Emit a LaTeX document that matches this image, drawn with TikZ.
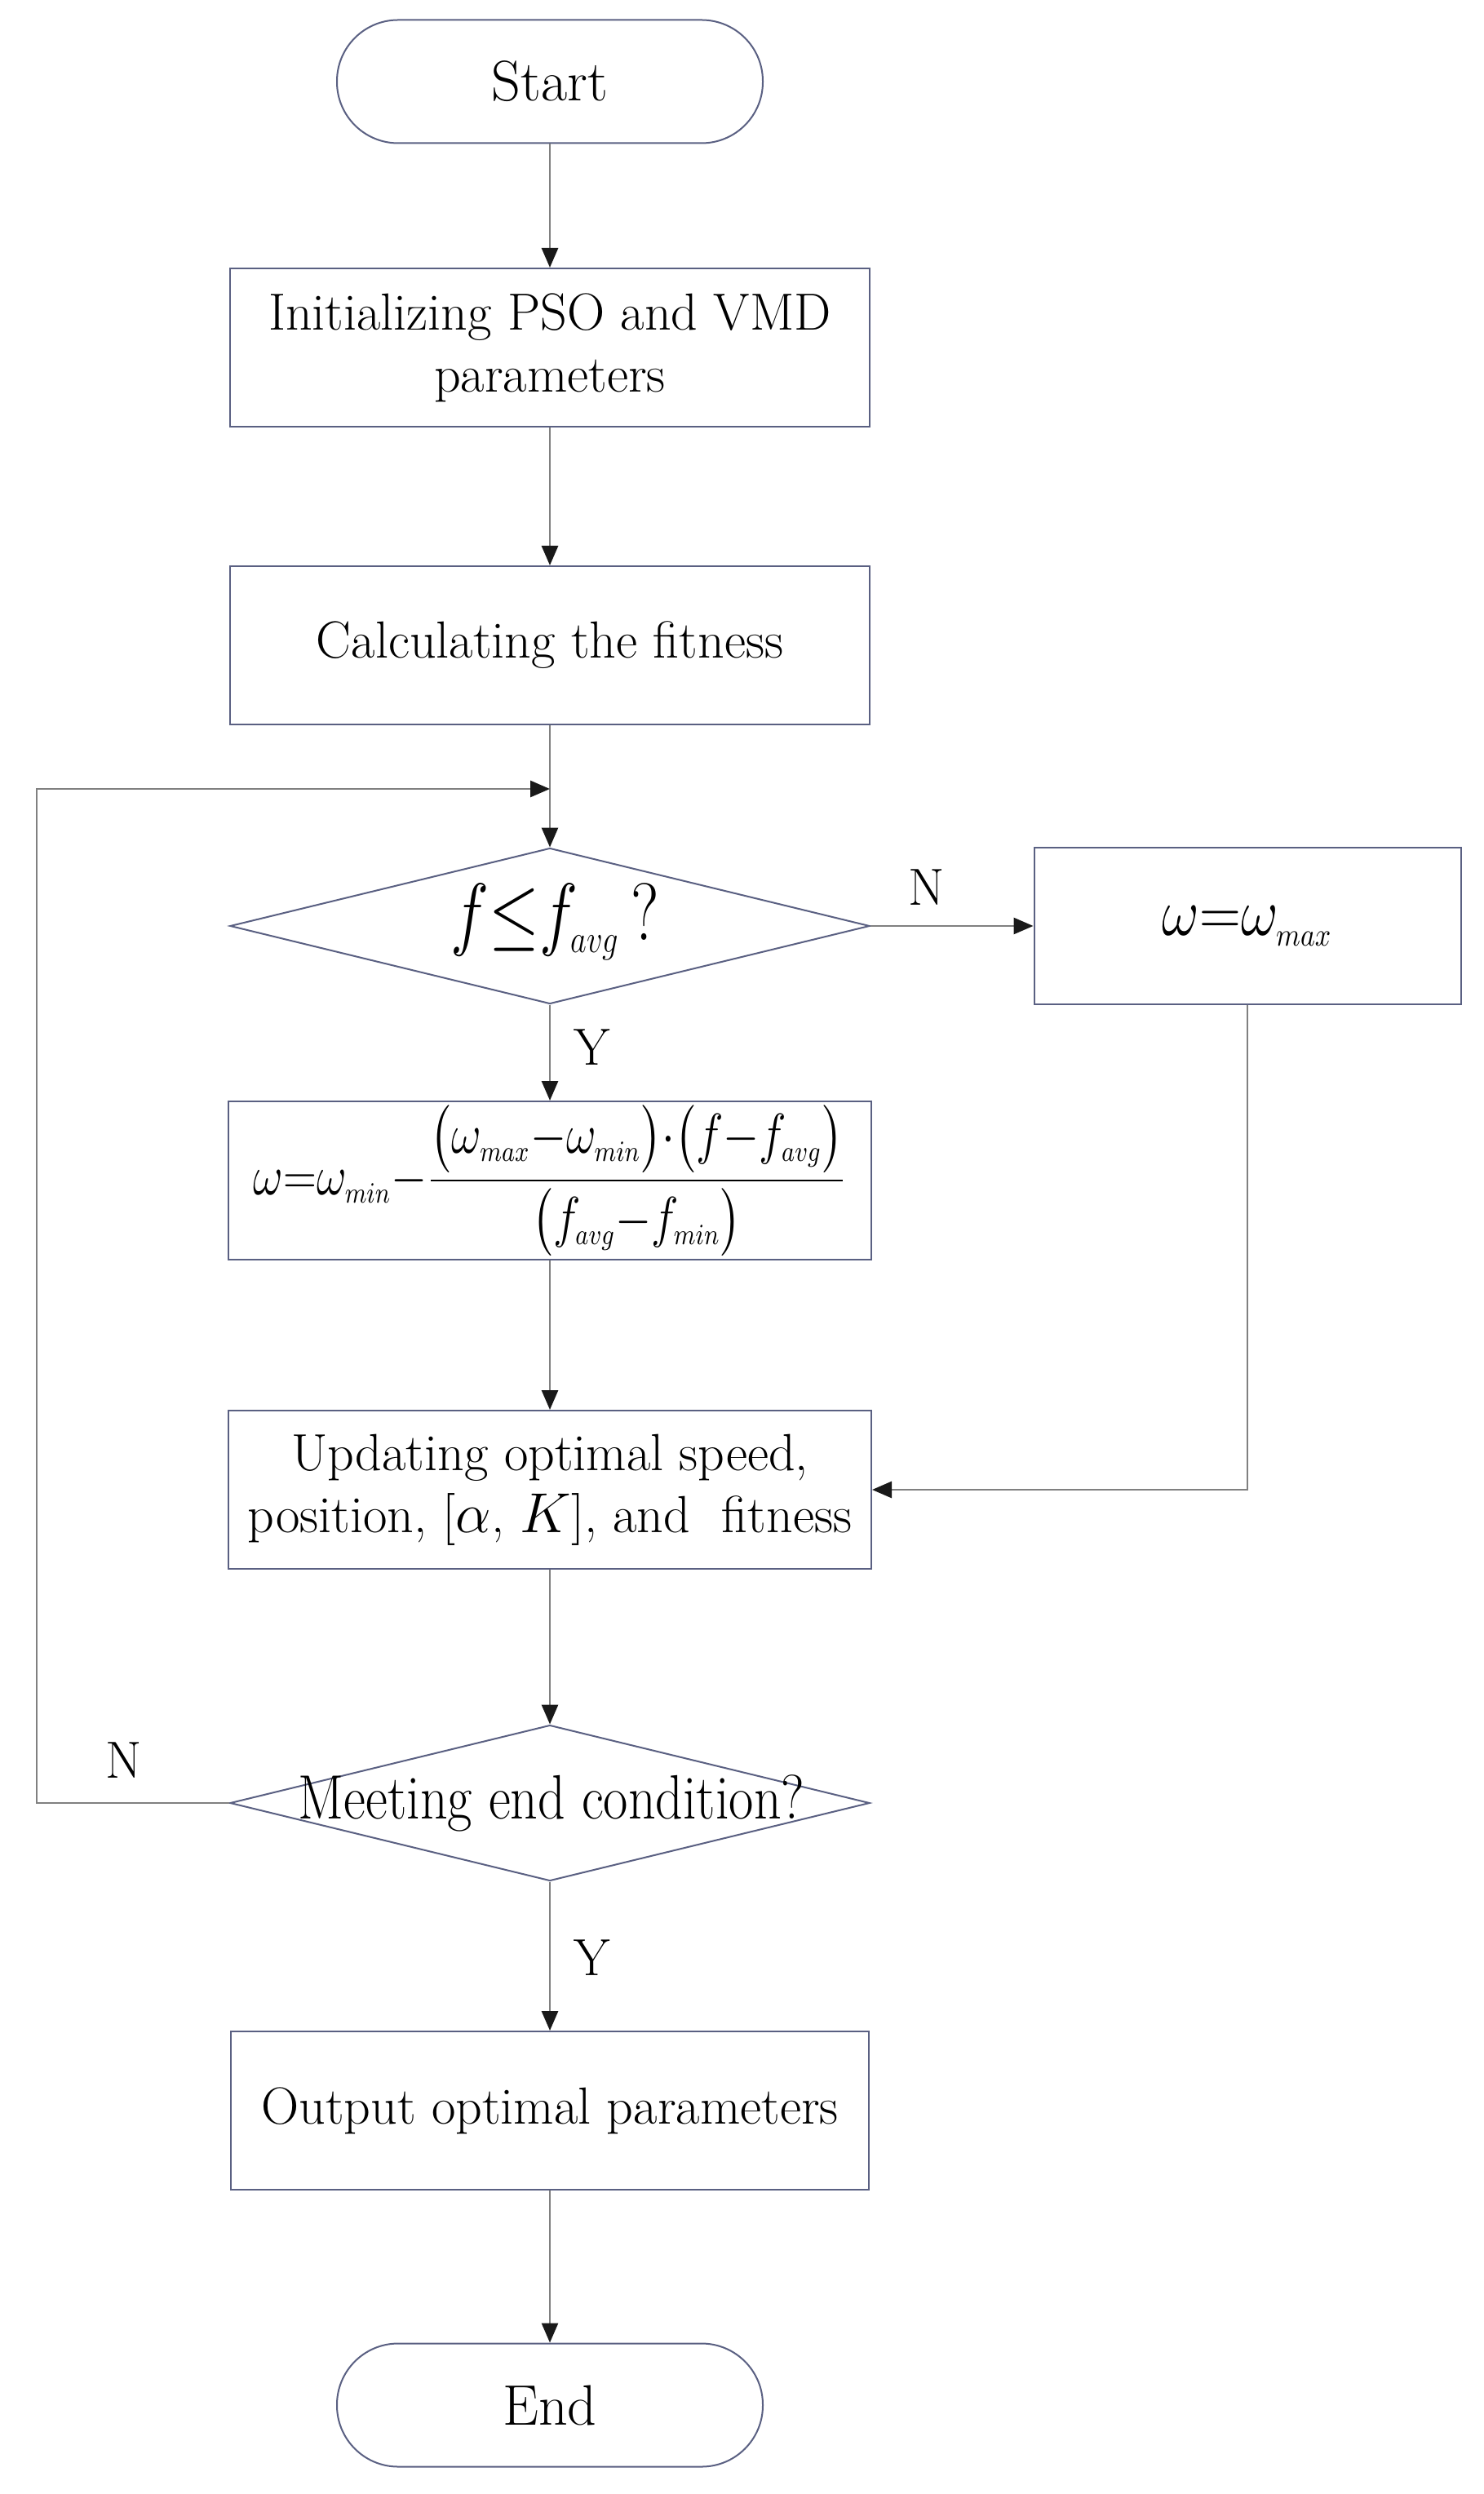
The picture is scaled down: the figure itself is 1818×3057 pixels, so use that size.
\documentclass[tikz,border=0pt]{standalone}
\usepackage{amsmath}
\usetikzlibrary{shapes.geometric,arrows.meta}
\definecolor{boxcol}{RGB}{90,96,130}
\definecolor{linecol}{RGB}{128,128,128}
\newcommand{\sbs}[1]{_{\scriptscriptstyle #1}}
\begin{document}
\begin{tikzpicture}[x=0.25pt,y=-0.25pt,
  base/.style={draw=boxcol,line width=0.5pt,fill=white,align=center,font=\fontsize{16}{19}\selectfont,inner sep=0pt},
  procbox/.style={base,rectangle,minimum width={#1*0.25pt},minimum height={194*0.25pt}},
  term/.style={base,rectangle,rounded corners={75*0.25pt},minimum width={522*0.25pt},minimum height={151*0.25pt},font=\fontsize{17.5}{20}\selectfont},
  decide/.style={base,diamond,aspect=4.1,minimum width={784*0.25pt},minimum height={191*0.25pt}},
  conn/.style={draw=linecol,line width=0.7pt,-{Triangle[length=6pt,width=5pt,color=black!90]}},
  yn/.style={font=\fontsize{16}{18}\selectfont,inner sep=0pt}
]
\useasboundingbox (0,0) rectangle (1818,3057);
\node[term] (start) at (674,100) {Start};
\node[procbox=784] (init) at (674,426) {Initializing PSO and VMD\\parameters};
\node[procbox=784] (calc) at (674,791) {Calculating the fitness};
\node[decide] (d1) at (674,1135) {};
\node[inner sep=0pt] (d1t) at (680,1130) {\scalebox{0.8}[1]{\fontsize{24}{26}\selectfont$f{\leq}f\sbs{avg}\,?$}};
\node[base,rectangle,minimum width={523*0.25pt},minimum height={191*0.25pt}] (wmax) at (1529,1135) {\scalebox{0.85}[1]{\fontsize{20}{22}\selectfont$\omega{=}\omega\sbs{max}$}};
\node[procbox=788] (form) at (674,1447) {\scalebox{0.82}[1]{\fontsize{18}{20}\selectfont$\omega{=}\omega\sbs{min}{-}\dfrac{\bigl(\omega\sbs{max}{-}\omega\sbs{min}\bigr){\cdot}\bigl(f{-}f\sbs{avg}\bigr)}{\bigl(f\sbs{avg}{-}f\sbs{min}\bigr)}$}};
\node[procbox=788] (upd) at (674,1826) {Updating optimal speed,\\position, [$\alpha$, $K$], and\ \ fitness};
\node[decide] (d2) at (674,2210) {};
\node[inner sep=0pt] (d2t) at (676,2210) {\scalebox{1.03}[1.2]{\fontsize{16}{18}\selectfont Meeting end condition?}};
\node[procbox=782] (out) at (674,2587) {Output optimal parameters};
\node[term] (end) at (674,2948) {End};
\coordinate (loopA) at (45,2210);
\coordinate (loopB) at (45,967);
\coordinate (loopC) at (674,967);
\coordinate (rt) at (1529,1826);
\draw[conn] (start) -- (init);
\draw[conn] (init) -- (calc);
\draw[conn] (calc) -- (d1);
\draw[conn] (d1) -- (wmax);
\draw[conn] (d1) -- (form);
\draw[conn] (form) -- (upd);
\draw[conn] (wmax.south) -- (rt) -- (upd.east);
\draw[conn] (upd) -- (d2);
\draw[conn] (d2.west) -- (loopA) -- (loopB) -- (loopC);
\draw[conn] (d2) -- (out);
\draw[conn] (out) -- (end);
\node[yn] (n1) at (1136,1088) {N};
\node[yn] (y1) at (726,1284) {Y};
\node[yn] (n2) at (152,2158) {N};
\node[yn] (y2) at (726,2400) {Y};
\end{tikzpicture}
\end{document}
